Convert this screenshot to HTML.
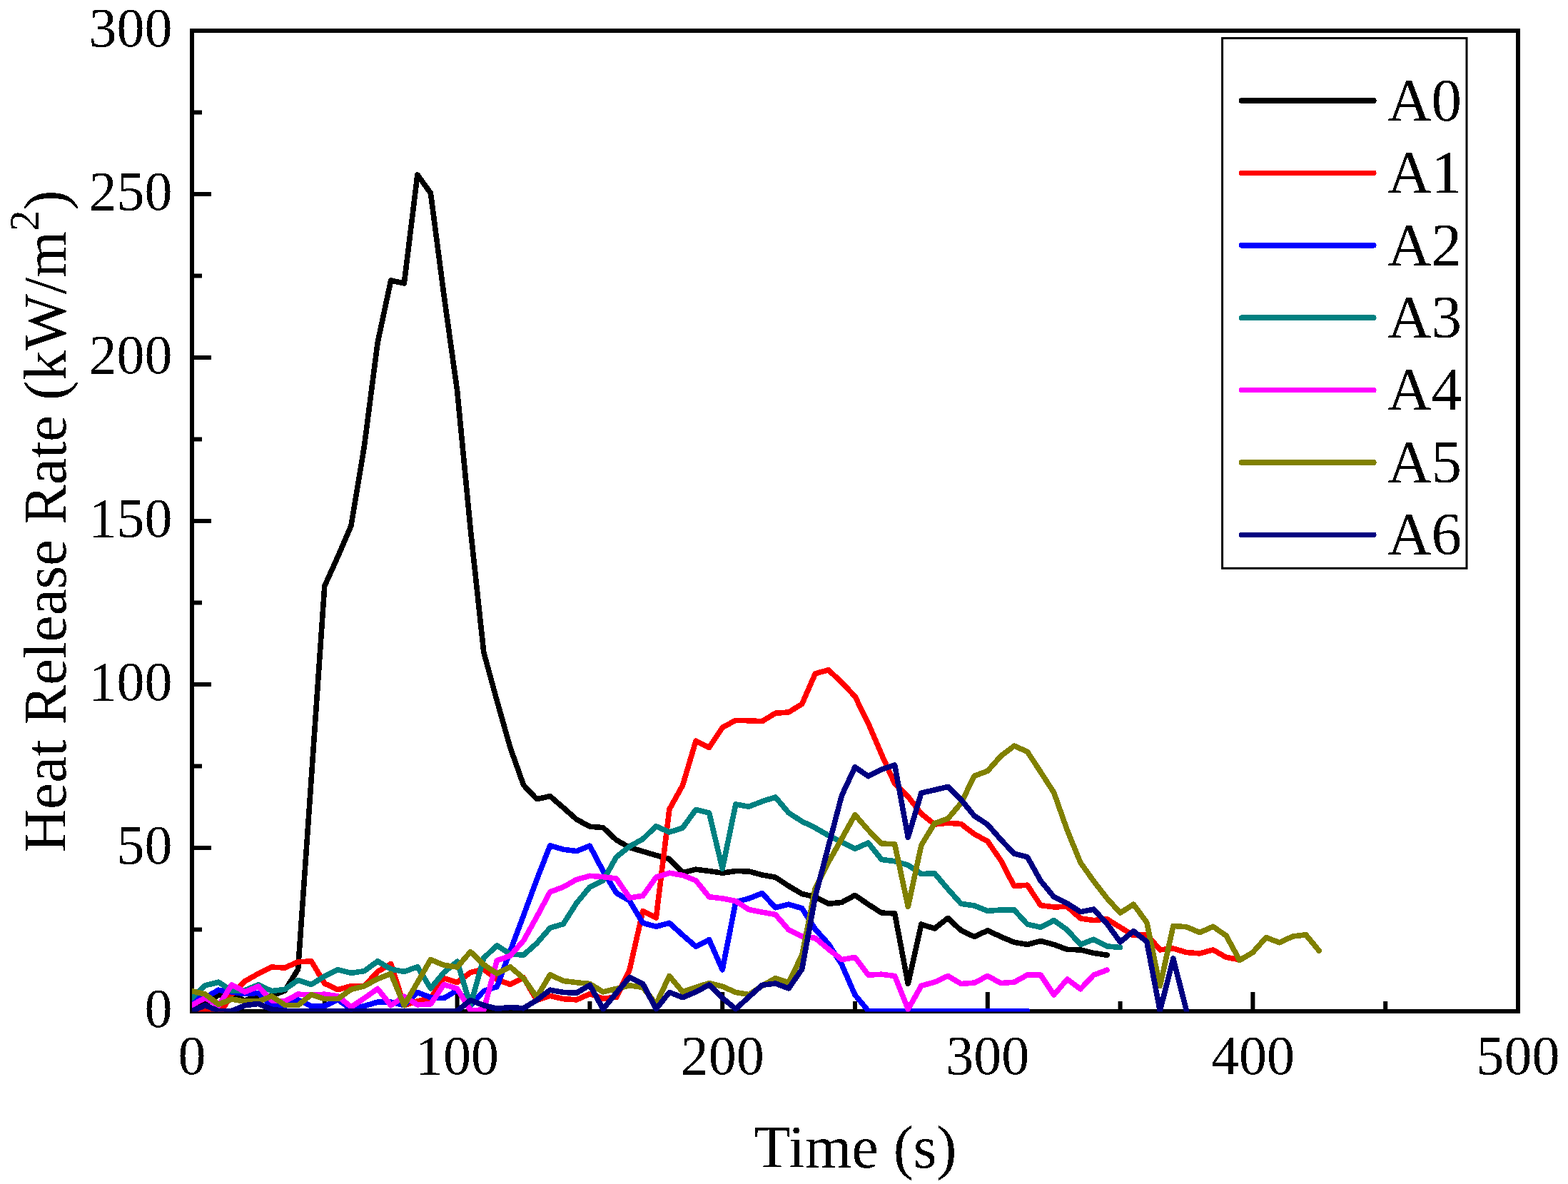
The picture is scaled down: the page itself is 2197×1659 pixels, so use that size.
<!DOCTYPE html>
<html><head><meta charset="utf-8"><title>Heat Release Rate</title>
<style>
html,body{margin:0;padding:0;background:#fff;}
body{width:2197px;height:1659px;overflow:hidden;}
svg{display:block;}
text{font-family:"Liberation Serif","Times New Roman",serif;fill:#000;}
</style></head><body>
<svg width="2197" height="1659" viewBox="0 0 2197 1659">
<rect x="0" y="0" width="2197" height="1659" fill="#fff"/>
<rect x="269" y="43" width="1858" height="1374" fill="none" stroke="#000" stroke-width="6"/>
<path d="M269.0,1417V1390.0M454.8,1417V1403.0M640.6,1417V1390.0M826.4,1417V1403.0M1012.2,1417V1390.0M1198.0,1417V1403.0M1383.8,1417V1390.0M1569.6,1417V1403.0M1755.4,1417V1390.0M1941.2,1417V1403.0M2127.0,1417V1390.0M269,1417.0H296.0M269,1302.5H283.0M269,1188.0H296.0M269,1073.5H283.0M269,959.0H296.0M269,844.5H283.0M269,730.0H296.0M269,615.5H283.0M269,501.0H296.0M269,386.5H283.0M269,272.0H296.0M269,157.5H283.0M269,43.0H296.0" stroke="#000" stroke-width="6" fill="none"/>
<defs><clipPath id="pa"><rect x="269" y="40" width="1861" height="1377.5"/></clipPath><filter id="bin" filterUnits="userSpaceOnUse" x="0" y="0" width="2197" height="1659" color-interpolation-filters="sRGB"><feComponentTransfer><feFuncA type="discrete" tableValues="0 1"/></feComponentTransfer></filter></defs>
<g fill="none" stroke-width="7.6" stroke-linejoin="round" stroke-linecap="round" clip-path="url(#pa)" shape-rendering="crispEdges">
<polyline stroke="#000000" points="269.0,1416.5 287.6,1406.0 306.2,1394.1 324.7,1395.4 343.3,1401.8 361.9,1395.0 380.5,1395.4 399.1,1388.1 417.6,1358.3 436.2,1091.3 454.8,821.1 473.4,779.9 492.0,736.4 510.5,624.6 529.1,480.3 547.7,392.9 566.3,397.0 584.9,244.9 603.4,270.6 622.0,413.5 640.6,547.2 659.2,741.0 677.8,914.1 696.3,981.9 714.9,1047.4 733.5,1100.0 752.1,1119.7 770.7,1115.6 789.2,1131.6 807.8,1148.1 826.4,1158.2 845.0,1159.6 863.6,1177.0 882.1,1187.5 900.7,1193.0 919.3,1198.5 937.9,1203.5 956.5,1222.8 975.0,1218.2 993.6,1220.5 1012.2,1223.2 1030.8,1220.5 1049.4,1220.9 1067.9,1226.0 1086.5,1229.2 1105.1,1241.5 1123.7,1252.5 1142.3,1256.7 1160.8,1266.3 1179.4,1264.4 1198.0,1254.4 1216.6,1267.2 1235.2,1279.1 1253.7,1280.0 1272.3,1378.5 1290.9,1295.1 1309.5,1301.1 1328.1,1286.4 1346.6,1303.8 1365.2,1312.5 1383.8,1303.8 1402.4,1312.5 1421.0,1320.3 1439.5,1323.5 1458.1,1318.5 1476.7,1323.5 1495.3,1330.4 1513.9,1330.9 1532.4,1335.4 1551.0,1338.2"/>
<polyline stroke="#ff0000" points="269.0,1425.7 287.6,1416.5 306.2,1423.4 324.7,1393.1 343.3,1374.8 361.9,1364.3 380.5,1355.1 399.1,1356.0 417.6,1347.8 436.2,1346.9 454.8,1378.0 473.4,1386.7 492.0,1381.7 510.5,1381.7 529.1,1361.5 547.7,1350.5 566.3,1408.7 584.9,1402.8 603.4,1398.6 622.0,1370.7 640.6,1376.7 659.2,1362.5 677.8,1358.3 696.3,1372.5 714.9,1379.4 733.5,1369.8 752.1,1401.4 770.7,1395.4 789.2,1399.6 807.8,1400.9 826.4,1392.7 845.0,1399.1 863.6,1397.3 882.1,1358.8 900.7,1276.8 919.3,1286.0 937.9,1133.9 956.5,1100.5 975.0,1038.2 993.6,1047.4 1012.2,1019.4 1030.8,1009.3 1049.4,1009.8 1067.9,1010.7 1086.5,999.3 1105.1,997.9 1123.7,986.4 1142.3,943.8 1160.8,938.8 1179.4,956.2 1198.0,975.9 1216.6,1013.5 1235.2,1057.0 1253.7,1098.2 1272.3,1116.1 1290.9,1140.3 1309.5,1155.0 1328.1,1153.2 1346.6,1154.5 1365.2,1168.7 1383.8,1178.8 1402.4,1205.8 1421.0,1241.5 1439.5,1240.2 1458.1,1268.6 1476.7,1270.9 1495.3,1270.4 1513.9,1286.9 1532.4,1289.6 1551.0,1287.8 1569.6,1299.3 1588.2,1310.7 1606.8,1309.3 1625.3,1330.9 1643.9,1329.0 1662.5,1334.5 1681.1,1335.9 1699.7,1330.9 1718.2,1341.4 1736.8,1344.6"/>
<polyline stroke="#0000ff" points="269.0,1400.5 287.6,1397.7 306.2,1387.2 324.7,1389.9 343.3,1392.7 361.9,1391.3 380.5,1409.2 399.1,1409.6 417.6,1400.9 436.2,1409.6 454.8,1409.6 473.4,1400.5 492.0,1414.2 510.5,1409.6 529.1,1404.1 547.7,1404.1 566.3,1408.7 584.9,1390.4 603.4,1397.7 622.0,1398.6 640.6,1387.6 659.2,1408.7 677.8,1388.6 696.3,1382.6 714.9,1332.7 733.5,1282.8 752.1,1232.4 770.7,1184.8 789.2,1190.2 807.8,1192.5 826.4,1185.2 845.0,1220.5 863.6,1251.2 882.1,1262.2 900.7,1293.3 919.3,1298.3 937.9,1293.3 956.5,1310.2 975.0,1326.3 993.6,1316.7 1012.2,1358.8 1030.8,1264.0 1049.4,1258.9 1067.9,1251.6 1086.5,1271.8 1105.1,1267.2 1123.7,1272.7 1142.3,1302.0 1160.8,1322.6 1179.4,1351.5 1198.0,1394.1 1216.6,1416.5 1235.2,1416.5 1253.7,1416.5 1272.3,1416.5 1290.9,1416.5 1309.5,1416.5 1328.1,1416.5 1346.6,1416.5 1365.2,1416.5 1383.8,1416.5 1402.4,1416.5 1421.0,1416.5 1439.5,1416.5"/>
<polyline stroke="#008080" points="269.0,1398.2 287.6,1380.8 306.2,1376.2 324.7,1388.1 343.3,1387.6 361.9,1379.9 380.5,1388.6 399.1,1386.3 417.6,1373.4 436.2,1379.4 454.8,1368.0 473.4,1358.8 492.0,1363.4 510.5,1360.6 529.1,1346.9 547.7,1357.9 566.3,1361.5 584.9,1354.7 603.4,1384.9 622.0,1362.5 640.6,1347.3 659.2,1408.7 677.8,1342.3 696.3,1324.9 714.9,1336.8 733.5,1338.2 752.1,1321.7 770.7,1300.2 789.2,1294.7 807.8,1265.4 826.4,1242.9 845.0,1233.8 863.6,1200.8 882.1,1186.1 900.7,1175.6 919.3,1157.7 937.9,1166.0 956.5,1160.0 975.0,1134.4 993.6,1139.0 1012.2,1217.3 1030.8,1127.0 1049.4,1130.2 1067.9,1122.9 1086.5,1117.0 1105.1,1139.0 1123.7,1150.9 1142.3,1160.0 1160.8,1170.6 1179.4,1179.7 1198.0,1189.3 1216.6,1181.1 1235.2,1204.4 1253.7,1206.7 1272.3,1212.2 1290.9,1224.6 1309.5,1223.7 1328.1,1245.7 1346.6,1266.3 1365.2,1269.0 1383.8,1276.4 1402.4,1275.0 1421.0,1275.0 1439.5,1295.1 1458.1,1299.3 1476.7,1289.6 1495.3,1302.9 1513.9,1323.5 1532.4,1316.2 1551.0,1325.8 1569.6,1327.6"/>
<polyline stroke="#ff00ff" points="269.0,1408.3 287.6,1398.2 306.2,1409.2 324.7,1379.9 343.3,1389.9 361.9,1382.2 380.5,1401.8 399.1,1402.8 417.6,1393.1 436.2,1394.5 454.8,1393.1 473.4,1395.9 492.0,1411.0 510.5,1398.6 529.1,1385.4 547.7,1408.7 566.3,1396.3 584.9,1407.8 603.4,1406.9 622.0,1379.4 640.6,1385.4 659.2,1415.6 677.8,1415.1 696.3,1346.0 714.9,1339.1 733.5,1318.0 752.1,1284.6 770.7,1249.8 789.2,1242.9 807.8,1232.4 826.4,1227.3 845.0,1228.7 863.6,1231.0 882.1,1258.0 900.7,1255.3 919.3,1229.2 937.9,1223.2 956.5,1226.4 975.0,1233.8 993.6,1256.7 1012.2,1258.9 1030.8,1262.6 1049.4,1274.5 1067.9,1278.2 1086.5,1281.4 1105.1,1302.9 1123.7,1312.1 1142.3,1314.4 1160.8,1329.9 1179.4,1344.6 1198.0,1341.4 1216.6,1366.1 1235.2,1365.2 1253.7,1367.5 1272.3,1414.2 1290.9,1381.2 1309.5,1376.2 1328.1,1367.5 1346.6,1378.5 1365.2,1377.1 1383.8,1367.5 1402.4,1377.6 1421.0,1376.2 1439.5,1366.1 1458.1,1366.1 1476.7,1394.1 1495.3,1372.1 1513.9,1385.8 1532.4,1366.1 1551.0,1359.2"/>
<polyline stroke="#808000" points="269.0,1388.6 287.6,1393.1 306.2,1407.3 324.7,1400.0 343.3,1403.2 361.9,1403.2 380.5,1395.9 399.1,1408.3 417.6,1408.7 436.2,1393.6 454.8,1399.6 473.4,1399.6 492.0,1386.3 510.5,1381.7 529.1,1371.6 547.7,1364.3 566.3,1408.7 584.9,1376.7 603.4,1344.6 622.0,1352.4 640.6,1355.1 659.2,1333.6 677.8,1351.5 696.3,1364.3 714.9,1354.7 733.5,1370.7 752.1,1397.3 770.7,1365.7 789.2,1374.4 807.8,1376.7 826.4,1378.5 845.0,1389.9 863.6,1385.4 882.1,1380.8 900.7,1383.5 919.3,1406.9 937.9,1367.5 956.5,1389.9 975.0,1383.5 993.6,1377.6 1012.2,1382.2 1030.8,1390.4 1049.4,1393.6 1067.9,1381.2 1086.5,1370.7 1105.1,1376.7 1123.7,1338.2 1142.3,1244.8 1160.8,1208.1 1179.4,1175.1 1198.0,1141.7 1216.6,1163.2 1235.2,1182.0 1253.7,1182.9 1272.3,1270.4 1290.9,1184.3 1309.5,1153.6 1328.1,1147.2 1346.6,1125.2 1365.2,1087.2 1383.8,1080.3 1402.4,1059.3 1421.0,1045.1 1439.5,1053.3 1458.1,1081.7 1476.7,1110.6 1495.3,1163.2 1513.9,1208.6 1532.4,1234.7 1551.0,1258.5 1569.6,1279.1 1588.2,1267.2 1606.8,1292.4 1625.3,1381.7 1643.9,1297.4 1662.5,1298.8 1681.1,1306.6 1699.7,1298.3 1718.2,1311.2 1736.8,1345.5 1755.4,1334.5 1774.0,1313.5 1792.6,1320.8 1811.1,1312.1 1829.7,1309.8 1848.3,1332.2"/>
<polyline stroke="#000080" points="269.0,1416.5 287.6,1408.7 306.2,1416.5 324.7,1416.5 343.3,1408.7 361.9,1406.4 380.5,1414.2 399.1,1416.5 417.6,1416.5 436.2,1416.5 454.8,1416.5 473.4,1416.5 492.0,1416.5 510.5,1416.5 529.1,1416.5 547.7,1416.5 566.3,1416.5 584.9,1416.5 603.4,1416.5 622.0,1416.5 640.6,1416.5 659.2,1401.4 677.8,1408.7 696.3,1413.3 714.9,1411.5 733.5,1412.8 752.1,1401.4 770.7,1387.2 789.2,1390.4 807.8,1391.3 826.4,1380.3 845.0,1413.8 863.6,1391.3 882.1,1369.3 900.7,1378.5 919.3,1413.8 937.9,1390.4 956.5,1397.7 975.0,1389.9 993.6,1379.9 1012.2,1398.2 1030.8,1413.8 1049.4,1396.8 1067.9,1380.3 1086.5,1378.0 1105.1,1384.9 1123.7,1357.9 1142.3,1256.2 1160.8,1185.7 1179.4,1114.7 1198.0,1074.8 1216.6,1087.7 1235.2,1078.0 1253.7,1072.1 1272.3,1173.3 1290.9,1111.0 1309.5,1106.9 1328.1,1102.3 1346.6,1120.6 1365.2,1143.1 1383.8,1155.4 1402.4,1176.5 1421.0,1196.2 1439.5,1200.8 1458.1,1234.2 1476.7,1256.7 1495.3,1265.8 1513.9,1277.7 1532.4,1274.1 1551.0,1294.2 1569.6,1319.9 1588.2,1304.7 1606.8,1319.4 1625.3,1416.5 1643.9,1343.2 1662.5,1416.5"/>
</g>
<g filter="url(#bin)">
<text x="269.0" y="1504.5" font-size="78" text-anchor="middle">0</text>
<text x="640.6" y="1504.5" font-size="78" text-anchor="middle">100</text>
<text x="1012.2" y="1504.5" font-size="78" text-anchor="middle">200</text>
<text x="1383.8" y="1504.5" font-size="78" text-anchor="middle">300</text>
<text x="1755.4" y="1504.5" font-size="78" text-anchor="middle">400</text>
<text x="2127.0" y="1504.5" font-size="78" text-anchor="middle">500</text>
<text x="241.5" y="1439.0" font-size="78" text-anchor="end">0</text>
<text x="241.5" y="1210.0" font-size="78" text-anchor="end">50</text>
<text x="241.5" y="981.0" font-size="78" text-anchor="end">100</text>
<text x="241.5" y="752.0" font-size="78" text-anchor="end">150</text>
<text x="241.5" y="523.0" font-size="78" text-anchor="end">200</text>
<text x="241.5" y="294.0" font-size="78" text-anchor="end">250</text>
<text x="241.5" y="65.0" font-size="78" text-anchor="end">300</text>
<text x="1198.4" y="1636" font-size="84" text-anchor="middle">Time (s)</text>
<text transform="translate(92,1194.4) rotate(-90)" font-size="83.6">Heat Release Rate (kW/m<tspan dy="-38" font-size="59">2</tspan><tspan dy="38">)</tspan></text>
</g>
<rect x="1712.6" y="53.5" width="342.4" height="742.8" fill="#fff" stroke="#000" stroke-width="3"/>
<line x1="1739.5" y1="141.0" x2="1924.8" y2="141.0" stroke="#000000" stroke-width="7.6" stroke-linecap="round" shape-rendering="crispEdges"/>
<text x="1944" y="168.8" font-size="85" filter="url(#bin)">A0</text>
<line x1="1739.5" y1="242.4" x2="1924.8" y2="242.4" stroke="#ff0000" stroke-width="7.6" stroke-linecap="round" shape-rendering="crispEdges"/>
<text x="1944" y="270.2" font-size="85" filter="url(#bin)">A1</text>
<line x1="1739.5" y1="343.8" x2="1924.8" y2="343.8" stroke="#0000ff" stroke-width="7.6" stroke-linecap="round" shape-rendering="crispEdges"/>
<text x="1944" y="371.6" font-size="85" filter="url(#bin)">A2</text>
<line x1="1739.5" y1="445.2" x2="1924.8" y2="445.2" stroke="#008080" stroke-width="7.6" stroke-linecap="round" shape-rendering="crispEdges"/>
<text x="1944" y="473.0" font-size="85" filter="url(#bin)">A3</text>
<line x1="1739.5" y1="546.6" x2="1924.8" y2="546.6" stroke="#ff00ff" stroke-width="7.6" stroke-linecap="round" shape-rendering="crispEdges"/>
<text x="1944" y="574.4" font-size="85" filter="url(#bin)">A4</text>
<line x1="1739.5" y1="648.0" x2="1924.8" y2="648.0" stroke="#808000" stroke-width="7.6" stroke-linecap="round" shape-rendering="crispEdges"/>
<text x="1944" y="675.8" font-size="85" filter="url(#bin)">A5</text>
<line x1="1739.5" y1="749.4" x2="1924.8" y2="749.4" stroke="#000080" stroke-width="7.6" stroke-linecap="round" shape-rendering="crispEdges"/>
<text x="1944" y="777.2" font-size="85" filter="url(#bin)">A6</text>
</svg></body></html>
